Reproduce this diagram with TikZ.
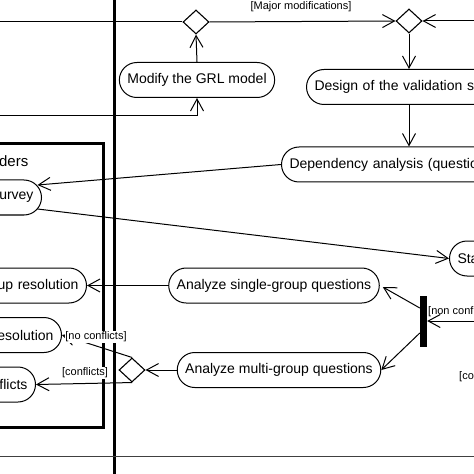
\documentclass[tikz,border=0pt]{standalone}
\usepackage{fontspec}
\setmainfont{Liberation Sans}
\usetikzlibrary{shapes.geometric,arrows.meta}
\begin{document}
\begin{tikzpicture}[x=1bp,y=-1bp,
  act/.style={draw, line width=1bp, rounded corners=17.5bp, minimum height=35bp,
    inner xsep=8bp, inner ysep=0pt, font=\fontsize{14bp}{16bp}\selectfont},
  cutl/.style={act, text width=220bp, align=right, anchor=east},
  cutr/.style={act, text width=220bp, align=left, anchor=west},
  dec/.style={draw, diamond, line width=1.1bp, inner sep=0pt, minimum width=26bp, minimum height=24bp},
  flow/.style={line width=1bp, -{Straight Barb[length=12bp,width=13bp]}},
  plain/.style={line width=1bp},
  guard/.style={font=\fontsize{11bp}{13bp}\selectfont, inner sep=0.5bp},
  guardw/.style={guard, fill=white},
  thick lane/.style={line width=3bp}]
\useasboundingbox (0,0) rectangle (474,474);
\clip (0,0) rectangle (474,474);
\fill[white] (0,0) rectangle (474,474);

% lanes and partitions
\draw[thick lane] (114,0) -- (114,474);
\draw[line width=1bp, black!75] (0,456) -- (474,456);
\draw[thick lane] (-10,144) rectangle (103,427);
\node[anchor=east, font=\fontsize{15bp}{17bp}\selectfont, inner sep=0pt] (lane) at (28.5,161) {ders};

% decision nodes
\node[dec] (d1) at (196,22) {};
\node[dec] (d2) at (409,21) {};
\node[dec] (d3) at (132,370) {};

% activities
\node[act, minimum width=154bp] (modify) at (197,80) {Modify the GRL model};
\node[cutr] (design) at (306,87) {Design of the validation su};
\node[cutr] (dep) at (281,164.5) {Dependency analysis (questio};
\node[cutl] (survey) at (42,197.5) {urvey};
\node[cutr] (sta) at (449,258.5) {Sta};
\node[act, minimum width=208bp] (single) at (274,285.5) {Analyze single-group questions};
\node[cutl] (upres) at (87,285.5) {up resolution};
\node[act, minimum width=202bp] (multi) at (279,370) {Analyze multi-group questions};
\node[cutl] (esres) at (62,335) {esolution};
\node[cutl] (flicts) at (36,384.5) {flicts};

% fork bar
\node[fill=black, draw=none, inner sep=0pt, minimum width=7bp, minimum height=51bp] (bar) at (423.5,321.5) {};

% free ends
\coordinate (lt) at (0,22);
\coordinate (rt) at (474,21);
\coordinate (lm) at (0,116);
\coordinate (rnc) at (474,321);

% connectors
\draw[plain] (lt) -- (d1.west);
\draw[flow] (d1.east) -- (d2.west);
\draw[flow] (rt) -- (d2.east);
\draw[flow] (modify.north) -- (d1.south);
\draw[flow] (lm) -| (modify.south);
\draw[flow] (d2.south) -- (design.north -| d2.south);
\draw[flow] (design.south -| d2.south) -- (dep.north -| d2.south);
\draw[flow] (dep.west) -- ([xshift=-4.5bp,yshift=12.5bp]survey.east);
\draw[flow] ([xshift=-4.5bp,yshift=-11.5bp]survey.east) -- (sta.west);
\draw[flow] (single.west) -- (upres.east);
\draw[flow] ([yshift=13.5bp]bar.west) -- ([xshift=3bp,yshift=-1.5bp]single.east);
\draw[flow] ([yshift=-11.5bp]bar.west) -- (multi.east);
\draw[flow] (rnc) -- (bar.east |- rnc);
\draw[flow] (multi.west) -- (d3.east);
\draw[flow] (d3.north) -- (esres.east);
\draw[flow] (d3.south) -- (flicts.east);

% guards
\node[guard] (gmaj) at (301,7) {[Major modifications]};
\node[guard, anchor=west] (gnc) at (427.5,312) {[non conf};
\node[guard, anchor=west] (gco) at (458.5,377) {[co};
\node[guardw] (gnoc) at (96,337) {[no conflicts]};
\node[guardw] (gc) at (85,373) {[conflicts]};
\end{tikzpicture}
\end{document}
